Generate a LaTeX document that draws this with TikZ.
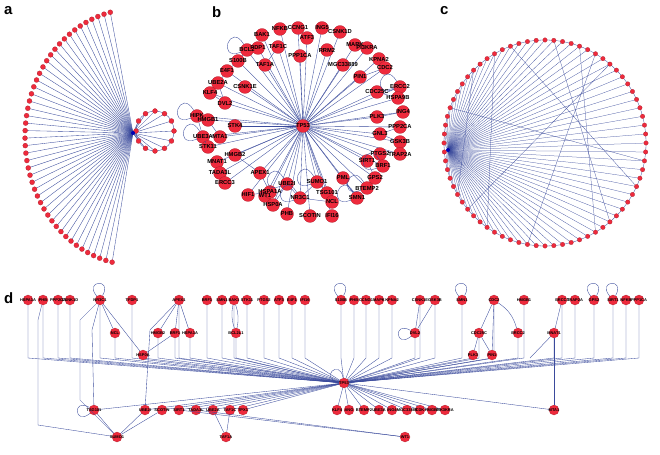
\documentclass[tikz,border=0pt]{standalone}
\usepackage{fontspec}
\setmainfont{Liberation Sans}
\definecolor{nred}{HTML}{EE2A3C}
\definecolor{edg}{HTML}{3A4A9C}
\begin{document}
\begin{tikzpicture}[x=1bp,y=-1bp,
  edge/.style={draw=edg,line width=0.35pt},
  bn/.style={circle,fill=nred,draw=nred!70!black,line width=0.2pt,minimum size=13bp,inner sep=0pt},
  sn/.style={circle,fill=nred,draw=nred!70!black,line width=0.2pt,minimum size=4.5bp,inner sep=0pt},
  dn/.style={circle,fill=nred,draw=nred!70!black,line width=0.2pt,minimum size=10bp,inner sep=0pt},
  blab/.style={font=\bfseries\fontsize{5.8}{6}\selectfont,inner sep=0pt},
  dlab/.style={font=\bfseries\fontsize{4}{4}\selectfont,inner sep=0pt},
  plab/.style={font=\bfseries\fontsize{15}{15}\selectfont,inner sep=1pt,anchor=north west}]
\useasboundingbox (0,0) rectangle (660,455);
\fill[white] (0,0) rectangle (660,455);
% panel labels
\node[plab] (la) at (3,5) {a};
\node[plab] (lb) at (211,5) {b};
\node[plab] (lc) at (439,5) {c};
\node[plab] (ld) at (3,291) {d};

% ===== panel a =====
\coordinate (ahub) at (133,133);
\foreach \i in {0,...,46}{
  \pgfmathsetmacro\ang{103+\i*155/46}
  \coordinate (a\i) at ({135+110*cos(\ang)},{137-128*sin(\ang)});
  \draw[edge] (ahub) -- (a\i);
}
\foreach \i in {0,...,11}{
  \coordinate (r\i) at ({155+19*cos(\i*30)},{131+20*sin(\i*30)});
  \draw[edge] (ahub) -- (r\i);
}
\draw[edge] (155,131) ellipse (19 and 20);
\foreach \i in {0,...,46}{\node[sn,minimum size=5bp] (an\i) at (a\i) {};}
\foreach \i in {0,...,11}{\node[sn,minimum size=5bp] (rn\i) at (r\i) {};}
\node[circle,fill=blue!70!black,minimum size=4bp,inner sep=0pt] (ahn) at (ahub) {};

% ===== panel c =====
\coordinate (chub) at (448,150);
\foreach \i in {0,...,71}{
  \coordinate (c\i) at ({545+101*cos(\i*5)},{143+103*sin(\i*5)});
}
\foreach \i in {0,...,71}{\draw[edge,line width=0.25pt] (chub) -- (c\i);}
\foreach \a/\b in {60/20,58/12,50/5,45/30,40/2,62/28,55/10,48/25}{\draw[edge,line width=0.25pt] (c\a) -- (c\b);}
\draw[edge,line width=0.3pt] (545,143) circle (101 and 103);
\foreach \i in {0,...,71}{\node[sn] (cn\i) at (c\i) {};}
\node[circle,fill=blue!70!black,minimum size=4bp,inner sep=0pt] (chn) at (chub) {};

% ===== panel b =====
\def\blist{1/280/29/NFKB,2/298/28/CCNG1,3/322/28/ING5,4/340/32/CSNK1D,5/262/35/BAK1,6/307/38/ATF3,7/355/45/MARK,8/367/48/PI3KRA,9/247/50/BCL2,10/258/48/PDP1,11/278/47/TAF1C,12/327/50/RRM2,13/300/56/PPP1CA,14/379/59/KPNA2,15/238/61/S100B,16/265/65/TAF1A,17/343/65/MGC33889,18/385/68/CDC2,19/227/71/E4F1,20/360/77/PIN1,21/400/87/ERCC2,22/218/83/UBE2A,23/245/87/CSNK1E,24/377/92/CDC25C,25/210/93/KLF4,26/398/98/HSPA9B,27/225/103/DVL2,28/403/112/ING4,29/377/117/PLK3,30/197/116/HIPK,31/208/120/HMGB1,32/235/126/STK4,33/400/127/PPP2CA,34/380/134/GNL3,35/203/137/UBE3A,36/220/137/MTA1,37/400/142/GSK3B,38/208/147/STK11,39/380/154/PTGS2,40/400/154/TRAP2A,41/235/155/HMGB2,42/217/162/MNAT1,43/367/161/SIRT1,44/383/166/BRF1,45/220/173/TADA3L,46/260/173/APEX1,47/317/182/SUMO1,48/343/178/PML,49/375/178/GPS2,50/225/183/ERCC3,51/287/184/UBE2I,52/367/188/BTEMP2,53/248/195/HIF1,54/265/196/WT1,55/270/192/HSPA1A,56/327/193/TSG101,57/357/198/SMN1,58/300/198/NR3C1,59/332/202/NCL,60/273/205/HSP0A,61/287/214/PHB,62/310/216/SCOTIN,63/332/216/IFI16}
\coordinate (btp) at (303,126);
\foreach \n/\x/\y/\t in \blist {\draw[edge] (btp) -- (\x,\y);}
\foreach \n/\x/\y/\t in \blist {\node[bn] (b\n) at (\x,\y) {};}
\foreach \a/\b in {9/15,15/19,22/27,25/27,30/35,31/36,35/38,21/24,18/20,24/26,29/28,33/34,34/37,43/49,44/49,52/57,47/58,51/58,58/59,56/47,48/57,53/55,60/51,55/46,41/46,19/22,10/5,16/11}{\draw[edge] (b\a) -- (b\b);}
\foreach \n in {9,30,35,21,47,58,52,57,44,51}{\draw[edge] (b\n) to[out=120,in=200,looseness=8] (b\n);}
\node[bn] (bTP) at (btp) {};
\foreach \n/\x/\y/\t in \blist {\node[blab] (bl\n) at (\x,\y) {\t};}
\node[blab] (blTP) at (btp) {TP53};

% ===== panel d =====
\coordinate (dtp) at (344,383);
\def\dtop{1/28/HSPA1A,2/43/PHB,3/58/PPP2CA,4/70/CSNK1D,5/100/NR3C1,6/132/TFDP1,7/179/APEX1,8/207/BRF1,9/222/SMN1,10/234/BAK1,11/247/STK11,12/264/PTGS2,13/279/ATF3,14/292/E4F1,15/305/IFI16,16/341/S100B,17/354/PHB,18/366/CCNG1,19/379/MAPK,20/392/KPNA2,21/420/CSNK1E,22/435/GSK3B,23/462/SMN1,24/494/CDC2,25/524/HMGB1,26/562/ERCC3,27/575/TRAP2A,28/594/GPS2,29/613/SIRT1,30/626/NFKB,31/639/PPP1CA}
\def\dmid{32/115/333/NCL,33/158/333/HMGB2,34/175/333/BRF1,35/190/333/HSPA1A,36/236/333/BCL2L1,37/415/333/DVL2,38/479/333/CDC25C,39/518/333/ERCC2,40/554/333/MNAT1,41/143/355/HSP0A,42/473/355/PLK3,43/492/355/PIN1}
\def\dbot{44/94/TSG101,45/145/UBE2I,46/162/SCOTIN,47/179/SIRT1,48/196/TADA3L,49/213/UBE2A,50/230/TAF1C,51/243/TPX1,52/337/KLF4,53/349/ANG,54/364/BTEMP2,55/379/UBE3A,56/392/ING4,57/407/MGC33889,58/420/CDK,59/432/HMGB1,60/445/PIK3KRA,61/554/MTA1}
\foreach \n/\x/\t in \dtop {\draw[edge] (\x,300) -- (\x,358) -- (dtp);}
\foreach \n/\x/\y/\t in \dmid {\draw[edge] (\x,\y) -- (\x,358) -- (dtp);}
\foreach \n/\x/\t in \dbot {\draw[edge] (\x,410) -- (dtp);}
\foreach \n/\x/\t in \dtop {\node[dn] (d\n) at (\x,300) {};}
\foreach \n/\x/\y/\t in \dmid {\node[dn] (d\n) at (\x,\y) {};}
\foreach \n/\x/\t in \dbot {\node[dn] (d\n) at (\x,410) {};}
\node[dn] (dS) at (117,437) {};
\node[dn] (dT) at (226,437) {};
\node[dn] (dW) at (405,437) {};
\node[dn] (dTP) at (dtp) {};
% extra edges
\draw[edge] (d5) -- (d32); \draw[edge] (d5) -- (d41); \draw[edge] (d5) -- (92,330) -- (d44);
\draw[edge] (d5) -- (80,320) -- (80,400) -- (dS);
\draw[edge] (d2) -- (38,320) -- (38,425) -- (dS);
\draw[edge] (d7) -- (d33); \draw[edge] (d7) -- (d34); \draw[edge] (d7) -- (d35);
\draw[edge] (d7) -- (150,330) -- (d45); \draw[edge] (d34) -- (d41);
\draw[edge] (d10) to[bend left=15] (d36); \draw[edge] (d10) to[bend right=15] (d36);
\draw[edge] (d21) -- (d37); \draw[edge] (d22) -- (d37);
\draw[edge] (d24) -- (d38); \draw[edge] (d24) -- (d43); \draw[edge] (d24) to[bend left=20] (d39);
\draw[edge] (d38) -- (d42); \draw[edge] (d38) -- (d43);
\draw[edge] (d26) -- (d40); \draw[edge] (d40) -- (d61);
\draw[edge] (d40) -- (530,358);
\draw[edge] (d44) -- (dS); \draw[edge] (d45) -- (dS); \draw[edge] (d46) -- (dS);
\draw[edge] (d50) -- (dT); \draw[edge] (d49) -- (dT);
\draw[edge] (d48) -- (dW); \draw[edge] (d47) -- (dW);
\foreach \n in {5,16,23,28,29}{\draw[edge] (d\n) to[out=60,in=130,looseness=9] (d\n);}
\draw[edge] (d37) to[out=150,in=220,looseness=9] (d37);
\draw[edge] (d44) to[out=150,in=220,looseness=9] (d44);
\draw[edge] (dTP) to[out=100,in=170,looseness=9] (dTP);
\foreach \n/\x/\t in \dtop {\node[dlab] (dl\n) at (\x,300) {\t};}
\foreach \n/\x/\y/\t in \dmid {\node[dlab] (dl\n) at (\x,\y) {\t};}
\foreach \n/\x/\t in \dbot {\node[dlab] (dl\n) at (\x,410) {\t};}
\node[dlab] (dlS) at (dS) {SUMO1};
\node[dlab] (dlT) at (dT) {TAF1A};
\node[dlab] (dlW) at (dW) {WT1};
\node[dlab] (dlTP) at (dtp) {TP53};
\end{tikzpicture}
\end{document}
